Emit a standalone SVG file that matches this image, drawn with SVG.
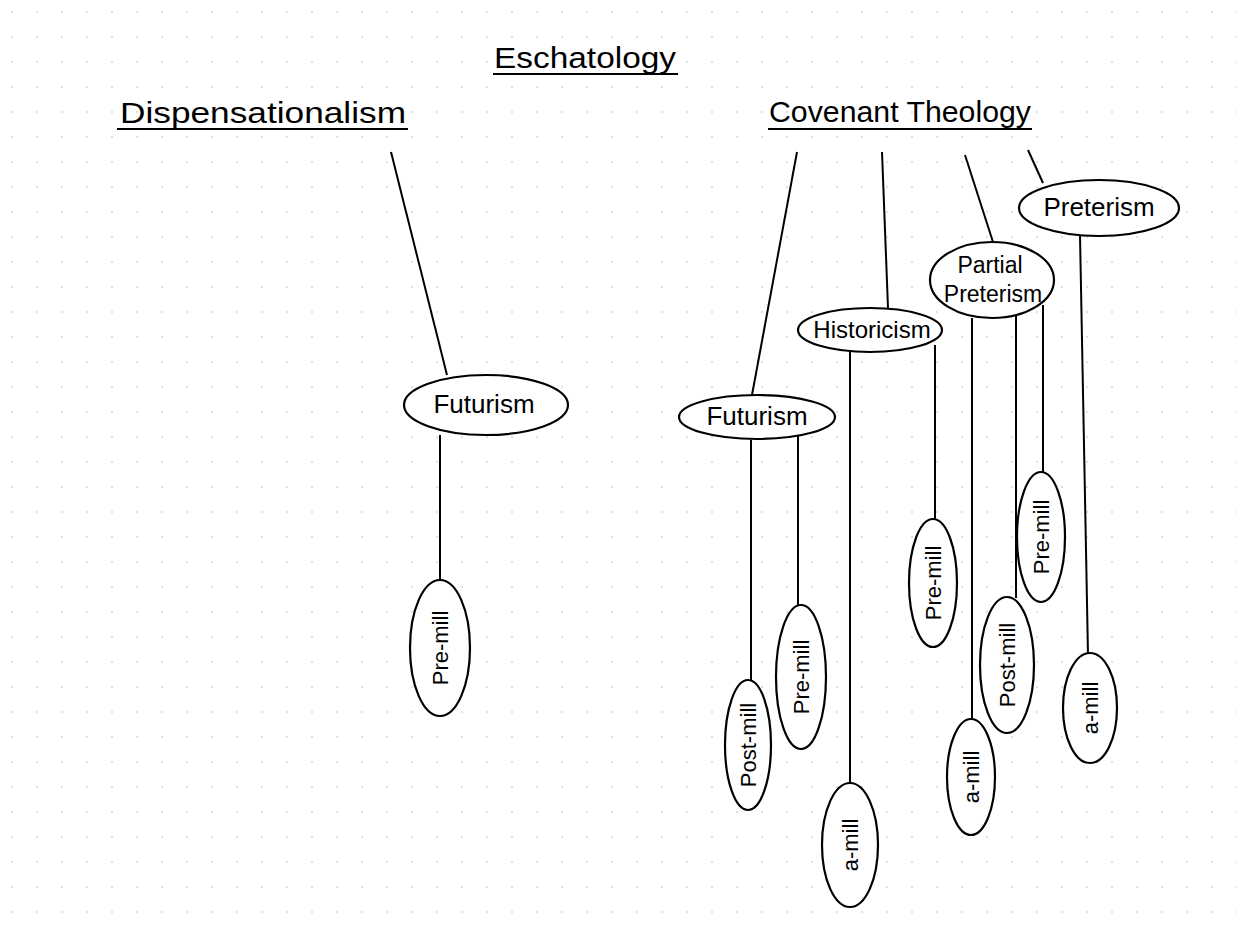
<svg xmlns="http://www.w3.org/2000/svg" width="1237" height="927" viewBox="0 0 1237 927">
<defs>
<pattern id="dots" width="25" height="25" patternUnits="userSpaceOnUse"><circle cx="12" cy="12" r="1" fill="#d4d4d4"/></pattern>
<style>
.n{fill:#fff;stroke:#000;stroke-width:2.2}
.c line{stroke:#000;stroke-width:2}
text{font-family:"Liberation Sans",Arial,sans-serif;fill:#000}
.h{font-size:30px;text-anchor:middle}
.t{font-size:26px;text-anchor:middle;dominant-baseline:central}
.v{font-size:22px;text-anchor:middle;dominant-baseline:central}
.u{stroke:#000;stroke-width:2}
</style>
</defs>
<rect width="1237" height="927" fill="#fff"/>
<rect width="1237" height="927" fill="url(#dots)"/>
<g id="title"><text class="h" x="585" y="68" textLength="182" lengthAdjust="spacingAndGlyphs">Eschatology</text><line class="u" x1="493" y1="74" x2="678" y2="74"/></g>
<g id="disp"><text class="h" x="263" y="123" textLength="286" lengthAdjust="spacingAndGlyphs">Dispensationalism</text><line class="u" x1="117" y1="129" x2="408" y2="129"/></g>
<g id="cov"><text class="h" x="900" y="122" textLength="262" lengthAdjust="spacingAndGlyphs">Covenant Theology</text><line class="u" x1="768" y1="129" x2="1032" y2="129"/></g>
<g class="c" id="connectors">
<line x1="391" y1="152" x2="447" y2="375"/>
<line x1="440" y1="435" x2="440" y2="580"/>
<line x1="797" y1="152" x2="752" y2="395"/>
<line x1="751" y1="440" x2="751" y2="683"/>
<line x1="798" y1="435" x2="798" y2="605"/>
<line x1="882" y1="152" x2="888" y2="308"/>
<line x1="850" y1="352" x2="850" y2="783"/>
<line x1="935" y1="345" x2="935" y2="520"/>
<line x1="965" y1="155" x2="993" y2="242"/>
<line x1="972" y1="318" x2="972" y2="720"/>
<line x1="1016" y1="315" x2="1016" y2="598"/>
<line x1="1043" y1="305" x2="1043" y2="472"/>
<line x1="1028" y1="150" x2="1043" y2="183"/>
<line x1="1080" y1="235" x2="1088" y2="655"/>
</g>
<g id="futurismL"><ellipse class="n" cx="486" cy="405" rx="82" ry="30"/><text class="t" x="484" y="404">Futurism</text></g>
<g id="premillL"><ellipse class="n" cx="440" cy="648" rx="30" ry="68"/><text class="v" transform="translate(440,648) rotate(-90)">Pre-mill</text></g>
<g id="futurismR"><ellipse class="n" cx="757" cy="417" rx="78" ry="22"/><text class="t" x="757" y="416">Futurism</text></g>
<g id="postmill1"><ellipse class="n" cx="748" cy="745" rx="23" ry="65"/><text class="v" transform="translate(748,745) rotate(-90)">Post-mill</text></g>
<g id="premill1"><ellipse class="n" cx="801" cy="677" rx="25" ry="72"/><text class="v" transform="translate(801,677) rotate(-90)">Pre-mill</text></g>
<g id="historicism"><ellipse class="n" cx="870" cy="330" rx="72" ry="22"/><text class="t" x="872" y="329" style="font-size:24px">Historicism</text></g>
<g id="amill1"><ellipse class="n" cx="850" cy="845" rx="28" ry="62"/><text class="v" transform="translate(850,845) rotate(-90)">a-mill</text></g>
<g id="premill2"><ellipse class="n" cx="933" cy="583" rx="24" ry="64"/><text class="v" transform="translate(933,583) rotate(-90)">Pre-mill</text></g>
<g id="partial"><ellipse class="n" cx="992" cy="280" rx="62" ry="38"/><text class="t" x="990" y="265" style="font-size:23px">Partial</text><text class="t" x="993" y="294" style="font-size:23px">Preterism</text></g>
<g id="amill2"><ellipse class="n" cx="971" cy="777" rx="24" ry="58"/><text class="v" transform="translate(971,777) rotate(-90)">a-mill</text></g>
<g id="postmill2"><ellipse class="n" cx="1007" cy="665" rx="27" ry="68"/><text class="v" transform="translate(1007,665) rotate(-90)">Post-mill</text></g>
<g id="premill3"><ellipse class="n" cx="1041" cy="537" rx="24" ry="65"/><text class="v" transform="translate(1041,537) rotate(-90)">Pre-mill</text></g>
<g id="preterism"><ellipse class="n" cx="1099" cy="208" rx="80" ry="28"/><text class="t" x="1099" y="207">Preterism</text></g>
<g id="amill3"><ellipse class="n" cx="1090" cy="708" rx="27" ry="55"/><text class="v" transform="translate(1090,708) rotate(-90)">a-mill</text></g>
</svg>
